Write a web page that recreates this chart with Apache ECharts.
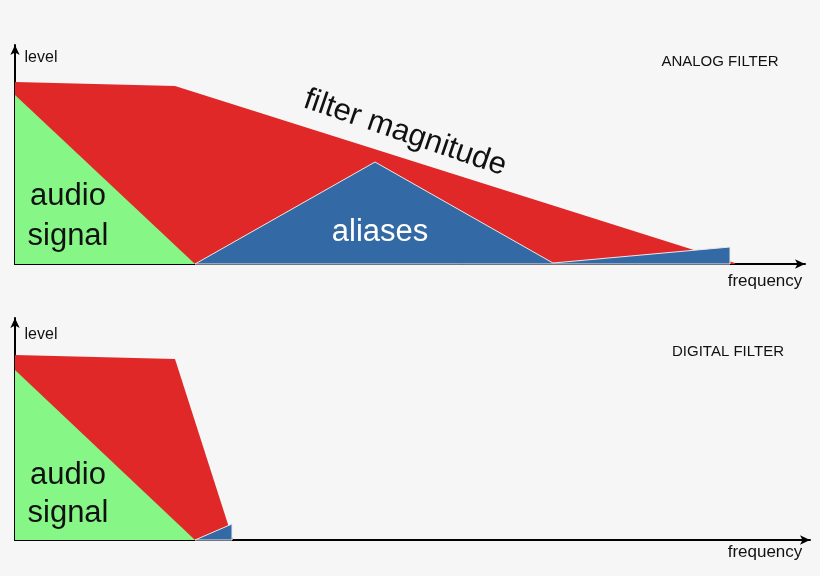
<!DOCTYPE html>
<html><head><meta charset="utf-8">
<script src="https://cdn.jsdelivr.net/npm/echarts@6/dist/echarts.min.js"></script>
<style>html,body{margin:0;background:#f6f6f6}#c{width:820px;height:576px}</style>
</head><body><div id="c"></div>
<script>
// Shapes in (frequency, level) units
const analogFilter = [[0,182],[160,178],[720,1],[720,0],[0,0]];
const analogAudio = [[0,169],[180,0],[0,0]];
const analogAliases = [[180,0],[360,102],[538,1],[715,17],[715,0]];
const digitalFilter = [[0,185],[160,181],[218,0],[0,0]];
const digitalAudio = [[0,170],[180,0],[0,0]];
const digitalAliases = [[180,0],[217,16],[217,0]];

const chart = echarts.init(document.getElementById('c'));
function poly(grid, pts, color, stroke){
  return {type:'custom', xAxisIndex:grid, yAxisIndex:grid, data:[0], silent:true,
    renderItem:(p,api)=>({type:'polygon', shape:{points:pts.map(q=>api.coord(q))},
      style:{fill:color, stroke:stroke||null, lineWidth:stroke?1:0}})};
}
const ax = (max)=>({type:'value', min:0, max:max, axisLine:{show:true, lineStyle:{color:'#000',width:2}, symbol:['none','arrow'], symbolSize:[7,10]}, axisTick:{show:false}, axisLabel:{show:false}, splitLine:{show:false}});
const txt=(x,y,t,size,color,extra)=>Object.assign({type:'text',x:x,y:y,z:100,style:{text:t,fontSize:size,fill:color||'#111',fontFamily:'Liberation Sans, Arial, sans-serif',align:'center',verticalAlign:'middle'}},extra||{});
chart.setOption({
  backgroundColor:'#f6f6f6',
  grid:[{left:15,top:45,width:790,height:219},{left:15,top:318,width:795,height:222}],
  xAxis:[Object.assign(ax(790),{gridIndex:0}),Object.assign(ax(795),{gridIndex:1})],
  yAxis:[Object.assign(ax(219),{gridIndex:0}),Object.assign(ax(222),{gridIndex:1})],
  series:[
    poly(0,analogFilter,'#e02828'), poly(0,analogAudio,'#86f786'), poly(0,analogAliases,'#336aa6','#e8e8e8'),
    poly(1,digitalFilter,'#e02828'), poly(1,digitalAudio,'#86f786'), poly(1,digitalAliases,'#336aa6','#e8e8e8')
  ],
  graphic:[
    txt(41,58,'level',16), txt(720,62,'ANALOG FILTER',15), txt(765,281,'frequency',17),
    txt(68,196,'audio',31), txt(68,236,'signal',31),
    txt(380,232,'aliases',31,'#fff'),
    txt(405,133,'filter magnitude',31,'#111',{rotation:-0.33}),
    txt(41,335,'level',16), txt(728,352,'DIGITAL FILTER',15), txt(765,552,'frequency',17),
    txt(68,475,'audio',31), txt(68,513,'signal',31)
  ]
});
</script></body></html>
